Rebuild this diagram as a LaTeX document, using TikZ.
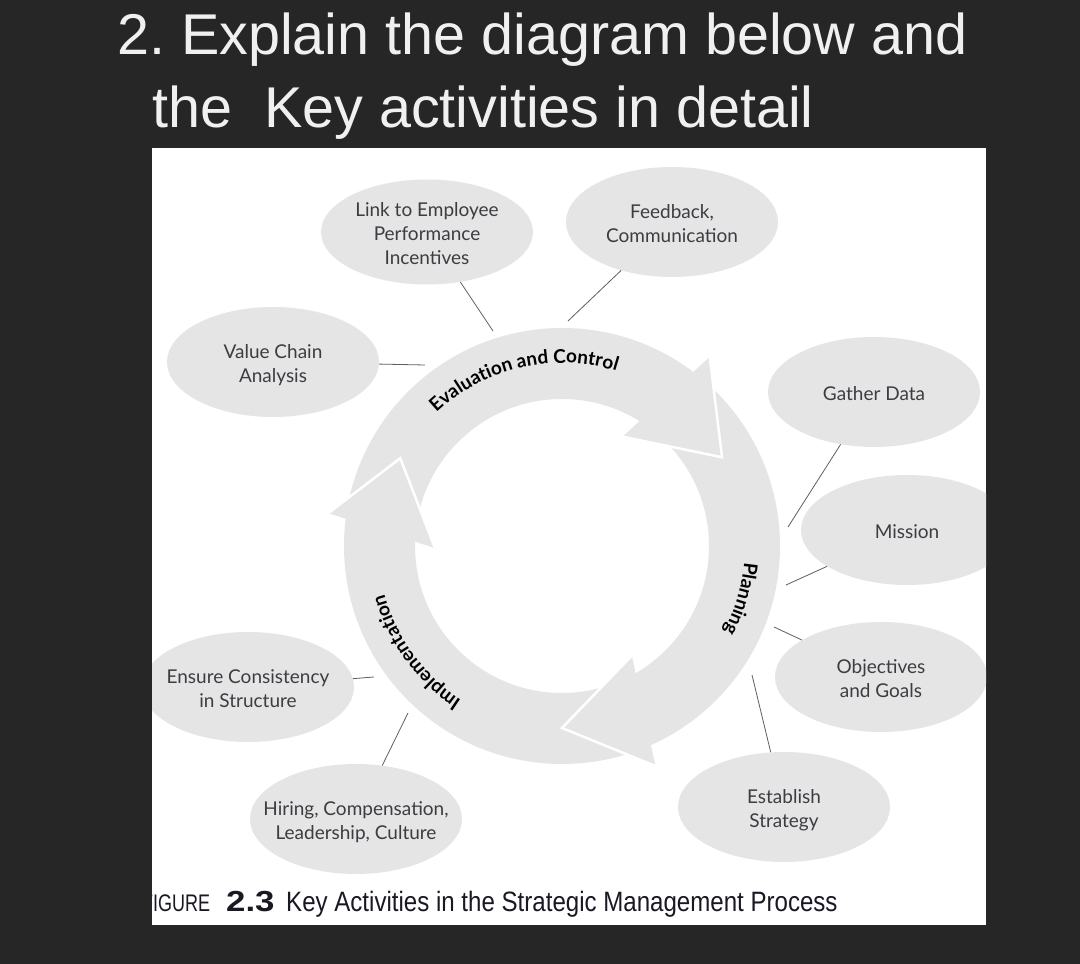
\documentclass[tikz,border=0pt]{standalone}
\usepackage{fontspec}
\usepackage{graphicx}
\usetikzlibrary{shapes.geometric, calc, decorations.text}
\setmainfont{Liberation Sans}
\newfontfamily\gillfont{Lato}
\newcommand{\ringtxt}{\gillfont\bfseries\fontsize{19}{19}\selectfont}
\newcommand{\blobtxt}[1]{\raisebox{-7.75pt}[0pt][0pt]{\makebox[0pt]{\begin{tabular}{@{}c@{}}#1\end{tabular}}}}

\definecolor{slidebg}{RGB}{38,38,38}
\definecolor{slidetext}{RGB}{240,240,240}
\definecolor{blobgray}{RGB}{229,229,229}
\definecolor{ringgray}{RGB}{229,229,229}
\definecolor{blobtext}{RGB}{60,60,66}
\definecolor{spokegray}{RGB}{95,95,95}
\definecolor{captext}{RGB}{25,25,35}

\tikzset{
  blob/.style={ellipse, fill=blobgray, minimum width=212pt, minimum height=110pt, inner sep=0pt,
    text=blobtext, font=\gillfont\fontsize{19}{24}\selectfont},
  spoke/.style={draw=spokegray, line width=0.8pt},
  headgap/.style={draw=white, line width=2.5pt, line join=miter},
  titleline/.style={anchor=base west, inner sep=0pt, text=slidetext, font=\fontsize{57.5}{60}\selectfont},
  capline/.style={anchor=base west, inner sep=0pt, text=captext}
}

\begin{document}
\begin{tikzpicture}[x=1pt, y=1pt]
\useasboundingbox (0,0) rectangle (1080,964);
\fill[slidebg] (0,0) rectangle (1080,964);

\node[titleline] (ttl1) at (117,909) {2.\ Explain the diagram below and};
\node[titleline] (ttl2) at (152,836) {the~ Key activities in detail};

\fill[white] (152,39) rectangle (986,816);

\coordinate (c) at (562,418);
\fill[ringgray, even odd rule] (c) circle (218) (c) circle (147);

\fill[ringgray] ($(c)+(52:240)$) -- ($(c)+(29:183)$) -- ($(c)+(61:125)$) -- cycle;
\draw[headgap] ($(c)+(52:240)$) -- ($(c)+(29:183)$) -- ($(c)+(61:125)$);

\fill[ringgray] ($(c)+(-67:239)$) -- ($(c)+(-90:182)$) -- ($(c)+(-57.5:130)$) -- cycle;
\draw[headgap] ($(c)+(-67:239)$) -- ($(c)+(-90:182)$) -- ($(c)+(-57.5:130)$);

\fill[ringgray] ($(c)+(172:236)$) -- ($(c)+(151.5:184)$) -- ($(c)+(181:127)$) -- cycle;
\draw[headgap] ($(c)+(172:236)$) -- ($(c)+(151.5:184)$) -- ($(c)+(181:127)$);

\path[decorate, decoration={text along path, text align=center, text={|\ringtxt|Evaluation and Control}}]
  ($(c)+(148:183)$) arc[start angle=148, end angle=58, radius=183];
\path[decorate, decoration={text along path, text align=center, text={|\ringtxt|Planning}}]
  ($(c)+(28.5:183)$) arc[start angle=28.5, end angle=-61.5, radius=183];
\path[decorate, decoration={text along path, text align=center, text={|\ringtxt|Implementation}}]
  ($(c)+(261:184)$) arc[start angle=261, end angle=171, radius=184];

\begin{scope}
\clip (152,39) rectangle (986,816);
\node[blob, minimum height=105pt] (lnk) at (427,732) {\blobtxt{Link to Employee\\Performance\\Incentives}};
\node[blob] (fdb) at (672,742) {\blobtxt{Feedback,\\Communication}};
\node[blob] (vca) at (273,602) {\blobtxt{Value Chain\\Analysis}};
\node[blob] (gat) at (874,572) {\blobtxt{Gather Data}};
\node[blob] (mis) at (907,434) {\blobtxt{Mission}};
\node[blob] (obj) at (881,287) {\blobtxt{Objectives\\and Goals}};
\node[blob] (est) at (784,157) {\blobtxt{Establish\\Strategy}};
\node[blob] (hir) at (356,145) {\blobtxt{Hiring, Compensation,\\Leadership, Culture}};
\node[blob] (ens) at (248,277) {\blobtxt{Ensure Consistency\\in Structure}};

\node[capline] (capfig) at (142,52)
  {\scalebox{0.75}[1]{\fontsize{24}{24}\selectfont FIGURE}};
\end{scope}

\node[capline] (capnum) at (226,52)
  {\scalebox{1.2}[1]{\fontsize{29}{30}\selectfont\bfseries 2.3}};
\node[capline] (captxt) at (286,52)
  {\scalebox{0.86}[1]{\fontsize{28}{28}\selectfont Key Activities in the Strategic Management Process}};

\coordinate (lnk-r) at (493,633);
\coordinate (fdb-r) at (568,643);
\coordinate (vca-r) at (425,599);
\coordinate (gat-r) at (788,437);
\coordinate (mis-r) at (786,379);
\coordinate (obj-r) at (774,337);
\coordinate (est-r) at (752,289);
\coordinate (ens-r) at (374,287);
\coordinate (hir-r) at (408,251);

\draw[spoke] (lnk) -- (lnk-r);
\draw[spoke] (fdb) -- (fdb-r);
\draw[spoke] (vca) -- (vca-r);
\draw[spoke] (gat) -- (gat-r);
\draw[spoke] (mis) -- (mis-r);
\draw[spoke] (obj) -- (obj-r);
\draw[spoke] (est) -- (est-r);
\draw[spoke] (ens) -- (ens-r);
\draw[spoke] (hir) -- (hir-r);
\end{tikzpicture}
\end{document}
